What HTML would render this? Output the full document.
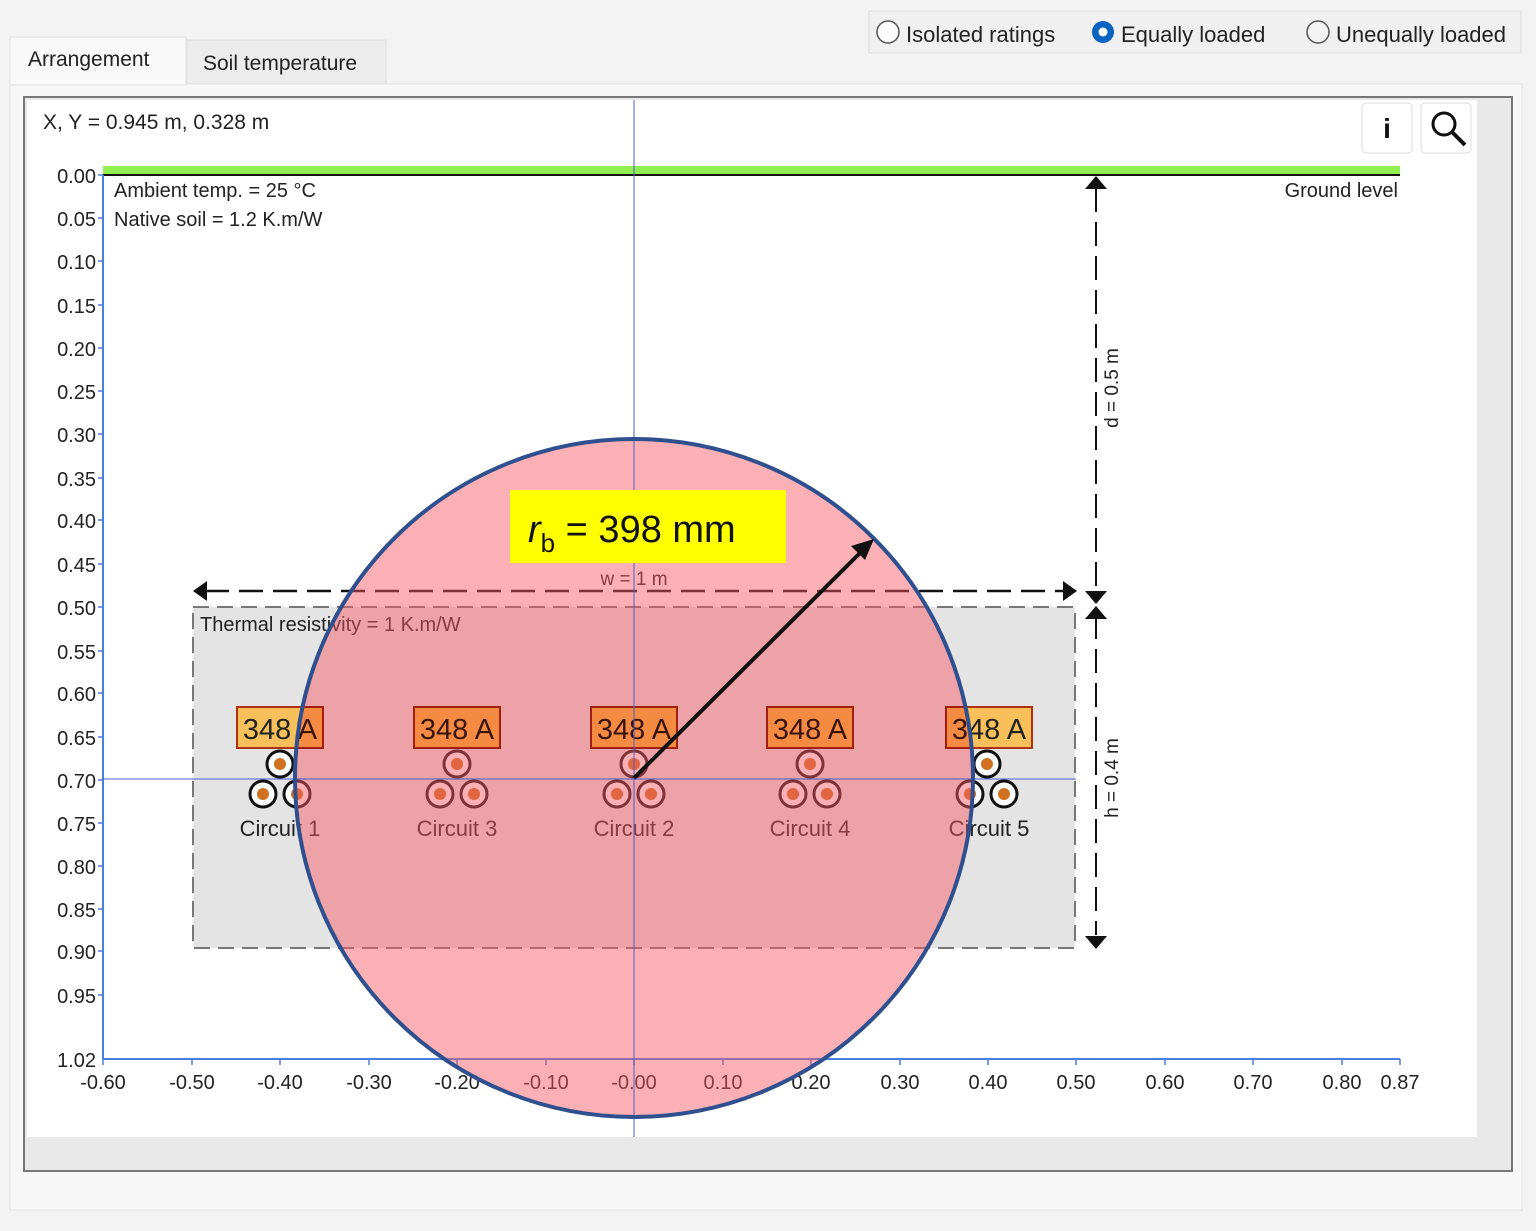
<!DOCTYPE html>
<html><head><meta charset="utf-8"><style>
body{margin:0;background:#f3f3f3;font-family:"Liberation Sans",sans-serif}
</style></head><body>
<svg width="1536" height="1226" viewBox="0 0 1536 1226" xmlns="http://www.w3.org/2000/svg" font-family="Liberation Sans, sans-serif">
<defs><clipPath id="cc"><circle cx="634" cy="778" r="339"/></clipPath></defs>
<rect width="1536" height="1226" fill="#f3f3f3"/>
<rect x="869" y="11" width="652" height="42" fill="#f0f0f0" stroke="#dcdcdc"/>
<circle cx="888" cy="32" r="11" fill="#fff" stroke="#555" stroke-width="1.5"/>
<text x="906" y="42" font-size="22" fill="#222">Isolated ratings</text>
<circle cx="1103" cy="32" r="11" fill="#0a63c0"/><circle cx="1103" cy="32" r="4.5" fill="#fff"/>
<text x="1121" y="42" font-size="22" fill="#222">Equally loaded</text>
<circle cx="1318" cy="32" r="11" fill="#f4f4f4" stroke="#555" stroke-width="1.5"/>
<text x="1336" y="42" font-size="22" fill="#222">Unequally loaded</text>
<rect x="10" y="84" width="1512" height="1126" fill="#f7f7f7" stroke="#e0e0e0"/>
<rect x="10" y="37" width="176" height="48" fill="#f9f9f9" stroke="#e0e0e0"/>
<rect x="187" y="40" width="199" height="44" fill="#ececec" stroke="#e0e0e0"/>
<text x="28" y="66" font-size="21" fill="#222">Arrangement</text>
<text x="203" y="70" font-size="21" fill="#222">Soil temperature</text>
<rect x="24" y="97" width="1488" height="1074" fill="#e9e9e9" stroke="#777" stroke-width="2"/>
<rect x="27" y="100" width="1450" height="1037" fill="#fff"/>
<text x="43" y="129" font-size="21" fill="#222">X, Y = 0.945 m, 0.328 m</text>
<rect x="1362" y="103" width="50" height="50" rx="4" fill="#fff" stroke="#ddd"/>
<text x="1387" y="138" font-size="28" font-weight="bold" text-anchor="middle" fill="#111">i</text>
<rect x="1421" y="103" width="50" height="50" rx="4" fill="#fff" stroke="#ddd"/>
<circle cx="1444" cy="124" r="11" fill="none" stroke="#111" stroke-width="3"/>
<line x1="1452" y1="132" x2="1465" y2="145" stroke="#111" stroke-width="4"/>
<rect x="103" y="166" width="1297" height="8" fill="#90ee50"/>
<line x1="103" y1="175" x2="1400" y2="175" stroke="#111" stroke-width="2"/>
<text x="1398" y="197" font-size="20" text-anchor="end" fill="#222">Ground level</text>
<text x="114" y="197" font-size="20" fill="#222">Ambient temp. = 25 °C</text>
<text x="114" y="226" font-size="20" fill="#222">Native soil = 1.2 K.m/W</text>
<line x1="103" y1="175" x2="103" y2="1059" stroke="#4a7fe0" stroke-width="2"/>
<line x1="103" y1="1059" x2="1400" y2="1059" stroke="#4a7fe0" stroke-width="2"/>
<g font-size="20" fill="#222" text-anchor="end">
<text x="96" y="183">0.00</text><text x="96" y="226">0.05</text><text x="96" y="269">0.10</text><text x="96" y="313">0.15</text><text x="96" y="356">0.20</text><text x="96" y="399">0.25</text><text x="96" y="442">0.30</text><text x="96" y="486">0.35</text><text x="96" y="528">0.40</text><text x="96" y="572">0.45</text><text x="96" y="615">0.50</text><text x="96" y="659">0.55</text><text x="96" y="701">0.60</text><text x="96" y="745">0.65</text><text x="96" y="788">0.70</text><text x="96" y="831">0.75</text><text x="96" y="874">0.80</text><text x="96" y="917">0.85</text><text x="96" y="959">0.90</text><text x="96" y="1003">0.95</text><text x="96" y="1067">1.02</text>
</g>
<g stroke="#4a7fe0" stroke-width="1.5">
<path d="M98 175h5M98 218h5M98 261h5M98 305h5M98 348h5M98 391h5M98 434h5M98 478h5M98 520h5M98 564h5M98 607h5M98 651h5M98 693h5M98 737h5M98 780h5M98 823h5M98 866h5M98 909h5M98 951h5M98 995h5"/>
<path d="M103 1059v6M192 1059v6M280 1059v6M369 1059v6M457 1059v6M546 1059v6M634 1059v6M723 1059v6M811 1059v6M900 1059v6M988 1059v6M1076 1059v6M1165 1059v6M1253 1059v6M1342 1059v6M1400 1059v6"/>
</g>
<g font-size="20" fill="#222" text-anchor="middle">
<text x="103" y="1089">-0.60</text><text x="192" y="1089">-0.50</text><text x="280" y="1089">-0.40</text><text x="369" y="1089">-0.30</text><text x="457" y="1089">-0.20</text><text x="546" y="1089">-0.10</text><text x="634" y="1089">-0.00</text><text x="723" y="1089">0.10</text><text x="811" y="1089">0.20</text><text x="900" y="1089">0.30</text><text x="988" y="1089">0.40</text><text x="1076" y="1089">0.50</text><text x="1165" y="1089">0.60</text><text x="1253" y="1089">0.70</text><text x="1342" y="1089">0.80</text><text x="1400" y="1089">0.87</text>
</g>
<rect x="193" y="607" width="882" height="341" fill="#e4e4e4" stroke="#777" stroke-width="2" stroke-dasharray="16,8"/>
<text x="200" y="631" font-size="20" fill="#222">Thermal resistivity = 1 K.m/W</text>
<line x1="205" y1="591" x2="1066" y2="591" stroke="#111" stroke-width="2.5" stroke-dasharray="24,10"/>
<path d="M193 591l14-10v20z M1077 591l-14-10v20z" fill="#111"/>
<text x="634" y="585" font-size="19" text-anchor="middle" fill="#222">w = 1 m</text>
<line x1="1096" y1="188" x2="1096" y2="600" stroke="#111" stroke-width="2" stroke-dasharray="24,10"/>
<line x1="1096" y1="615" x2="1096" y2="935" stroke="#111" stroke-width="2" stroke-dasharray="24,10"/>
<path d="M1096 176l-11 13h22z M1096 604l-11-13h22z M1096 606l-11 13h22z M1096 949l-11-13h22z" fill="#111"/>
<text transform="translate(1118 388) rotate(-90)" font-size="19" text-anchor="middle" fill="#222">d = 0.5 m</text>
<text transform="translate(1118 778) rotate(-90)" font-size="19" text-anchor="middle" fill="#222">h = 0.4 m</text>
<g id="labels">
<rect x="237" y="707" width="86" height="41" fill="#f8c05a" stroke="#b03010" stroke-width="2"/><text x="280" y="739" font-size="29" text-anchor="middle" fill="#222">348 A</text>
<rect x="414" y="707" width="86" height="41" fill="#f8c05a" stroke="#b03010" stroke-width="2"/><text x="457" y="739" font-size="29" text-anchor="middle" fill="#222">348 A</text>
<rect x="591" y="707" width="86" height="41" fill="#f8c05a" stroke="#b03010" stroke-width="2"/><text x="634" y="739" font-size="29" text-anchor="middle" fill="#222">348 A</text>
<rect x="767" y="707" width="86" height="41" fill="#f8c05a" stroke="#b03010" stroke-width="2"/><text x="810" y="739" font-size="29" text-anchor="middle" fill="#222">348 A</text>
<rect x="946" y="707" width="86" height="41" fill="#f8c05a" stroke="#b03010" stroke-width="2"/><text x="989" y="739" font-size="29" text-anchor="middle" fill="#222">348 A</text>
</g>
<g fill="#fff" stroke="#111" stroke-width="3">
<circle cx="280" cy="764" r="13"/><circle cx="263" cy="794" r="13"/><circle cx="297" cy="794" r="13"/>
<circle cx="457" cy="764" r="13"/><circle cx="440" cy="794" r="13"/><circle cx="474" cy="794" r="13"/>
<circle cx="634" cy="764" r="13"/><circle cx="617" cy="794" r="13"/><circle cx="651" cy="794" r="13"/>
<circle cx="810" cy="764" r="13"/><circle cx="793" cy="794" r="13"/><circle cx="827" cy="794" r="13"/>
<circle cx="987" cy="764" r="13"/><circle cx="970" cy="794" r="13"/><circle cx="1004" cy="794" r="13"/>
</g>
<g fill="#d07020">
<circle cx="280" cy="764" r="6"/><circle cx="263" cy="794" r="6"/><circle cx="297" cy="794" r="6"/>
<circle cx="457" cy="764" r="6"/><circle cx="440" cy="794" r="6"/><circle cx="474" cy="794" r="6"/>
<circle cx="634" cy="764" r="6"/><circle cx="617" cy="794" r="6"/><circle cx="651" cy="794" r="6"/>
<circle cx="810" cy="764" r="6"/><circle cx="793" cy="794" r="6"/><circle cx="827" cy="794" r="6"/>
<circle cx="987" cy="764" r="6"/><circle cx="970" cy="794" r="6"/><circle cx="1004" cy="794" r="6"/>
</g>
<g font-size="22" fill="#222" text-anchor="middle">
<text x="280" y="836">Circuit 1</text><text x="457" y="836">Circuit 3</text><text x="634" y="836">Circuit 2</text><text x="810" y="836">Circuit 4</text><text x="989" y="836">Circuit 5</text>
</g>
<circle cx="634" cy="778" r="339" fill="rgba(245,90,100,0.48)"/>
<g clip-path="url(#cc)">
<rect x="237" y="707" width="86" height="41" fill="#f58a42" stroke="#a02010" stroke-width="2"/><text x="280" y="739" font-size="29" text-anchor="middle" fill="#3a1510">348 A</text>
<rect x="414" y="707" width="86" height="41" fill="#f58a42" stroke="#a02010" stroke-width="2"/><text x="457" y="739" font-size="29" text-anchor="middle" fill="#3a1510">348 A</text>
<rect x="591" y="707" width="86" height="41" fill="#f58a42" stroke="#a02010" stroke-width="2"/><text x="634" y="739" font-size="29" text-anchor="middle" fill="#3a1510">348 A</text>
<rect x="767" y="707" width="86" height="41" fill="#f58a42" stroke="#a02010" stroke-width="2"/><text x="810" y="739" font-size="29" text-anchor="middle" fill="#3a1510">348 A</text>
<rect x="946" y="707" width="86" height="41" fill="#f58a42" stroke="#a02010" stroke-width="2"/><text x="989" y="739" font-size="29" text-anchor="middle" fill="#3a1510">348 A</text>
</g>
<line x1="634" y1="100" x2="634" y2="1137" stroke="#4a5fd0" stroke-width="1"/>
<line x1="103" y1="779" x2="1076" y2="779" stroke="#4a5fd0" stroke-width="1"/>
<circle cx="634" cy="778" r="339" fill="none" stroke="#2f4f8f" stroke-width="4"/>
<rect x="510" y="490" width="276" height="73" fill="#ffff00"/>
<text x="528" y="542" font-size="38" fill="#111"><tspan font-style="italic">r</tspan><tspan font-size="26" dy="10">b</tspan><tspan dy="-10"> = 398 mm</tspan></text>
<line x1="634" y1="778" x2="862" y2="551" stroke="#111" stroke-width="4"/>
<path d="M874 539l-23 7 14 14z" fill="#111"/>
</svg>
</body></html>
